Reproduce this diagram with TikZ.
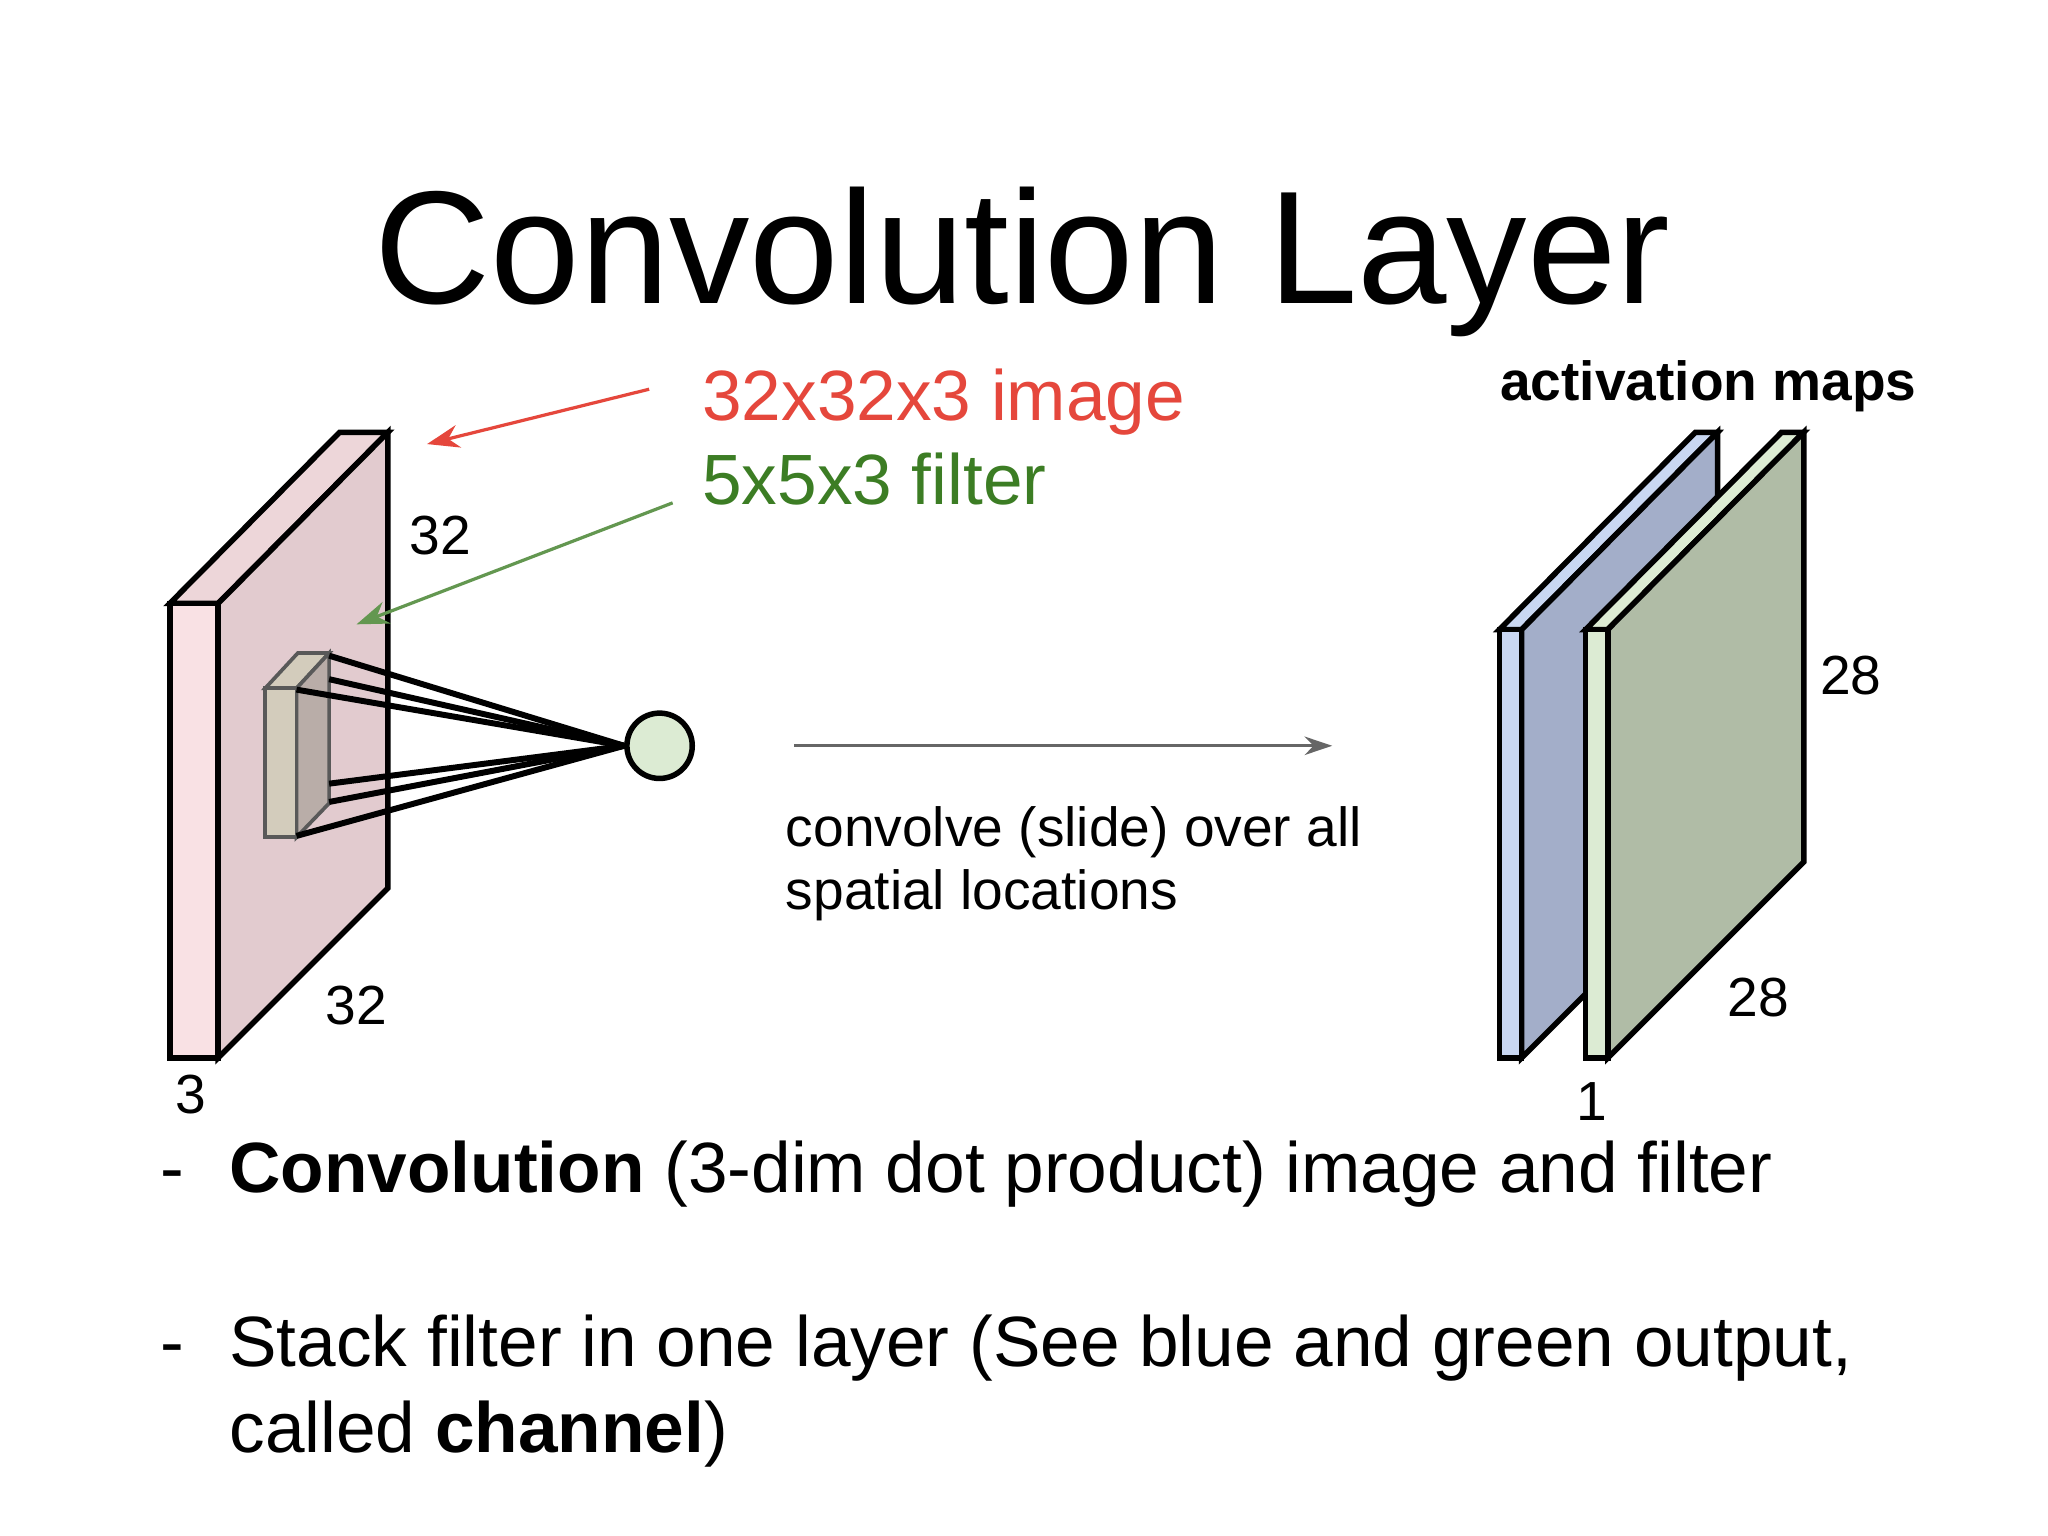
\documentclass[tikz,border=0pt]{standalone}
\usepackage{fontspec}
\setmainfont{Liberation Sans}
\usetikzlibrary{arrows.meta}
\definecolor{pinkf}{HTML}{F9E1E4}
\definecolor{pinks}{HTML}{E2CBCF}
\definecolor{pinkt}{HTML}{EDD6D9}
\definecolor{filf}{HTML}{D3CCBC}
\definecolor{fils}{HTML}{B9ADA8}
\definecolor{bluef}{HTML}{C9D7F2}
\definecolor{blues}{HTML}{A3AEC9}
\definecolor{greenf}{HTML}{DCEBD3}
\definecolor{greens}{HTML}{B0BCA6}
\definecolor{redt}{HTML}{E5473C}
\definecolor{greent}{HTML}{3C7D24}
\tikzset{box/.style={draw=black,line width=1.2pt,line join=miter},
 lbl/.style={font=\fontsize{12}{14}\selectfont,inner sep=0pt},
 bul/.style={font=\fontsize{15.5}{18}\selectfont,inner sep=0pt,anchor=base west}}
\begin{document}
\begin{tikzpicture}[x=0.01cm,y=-0.01cm]
\useasboundingbox (0,0) rectangle (1568,1176);
\fill[white] (0,0) rectangle (1568,1176);
\node[inner sep=0pt,anchor=base,font=\fontsize{35}{40}\selectfont] (title) at (783,232) {Convolution Layer};
% image slab
\filldraw[box,fill=pinkt] (130,462)--(167,462)--(297,331)--(260,331)--cycle;
\filldraw[box,fill=pinks] (167,462)--(297,331)--(297,680)--(167,810)--cycle;
\filldraw[box,fill=pinkf] (130,462) rectangle (167,810);
% filter
\filldraw[draw=gray!70!black,line width=0.8pt,fill=filf] (203,527)--(227,527)--(252,500)--(228,500)--cycle;
\filldraw[draw=gray!70!black,line width=0.8pt,fill=fils] (227,527)--(252,500)--(252,615)--(227,641)--cycle;
\filldraw[draw=gray!70!black,line width=0.8pt,fill=filf] (203,527) rectangle (227,641);
\coordinate (f1) at (252,502);
\coordinate (f2) at (227,528);
\coordinate (f3) at (227,640);
\coordinate (f4) at (252,614);
\coordinate (f5) at (252,520);
\coordinate (f6) at (252,600);
\node[circle,draw=black,line width=1.2pt,fill=greenf,inner sep=0pt,minimum size=0.5cm] (neuron) at (505,571) {};
\foreach \c in {f1,f2,f3,f4,f5,f6}{\draw[line width=1.3pt] (\c) -- (neuron.west);}
\node[lbl] (l32a) at (337,410) {32};
\node[lbl] (l32b) at (273,770) {32};
\node[lbl] (l3) at (146,838) {3};
% labels with arrows
\node[inner sep=0pt,anchor=base west,text=redt,font=\fontsize{15.5}{18}\selectfont] (imgl) at (537,322) {32x32x3 image};
\node[inner sep=0pt,anchor=base west,text=greent,font=\fontsize{15.5}{18}\selectfont] (fill) at (537,386) {5x5x3 filter};
\coordinate (ra) at (497,298); \coordinate (rb) at (327,340);
\draw[redt,line width=0.7pt,-{Stealth[length=7pt,width=5pt]}] (ra) -- (rb);
\coordinate (ga) at (515,385); \coordinate (gb) at (273,478);
\draw[greent!80,line width=0.7pt,-{Stealth[length=7pt,width=5pt]}] (ga) -- (gb);
% middle arrow
\coordinate (ma) at (608,571); \coordinate (mb) at (1020,571);
\draw[gray!80!black,line width=0.7pt,-{Stealth[length=6pt,width=4pt]}] (ma) -- (mb);
\node[lbl,anchor=base west] (conv1) at (601,648) {convolve (slide) over all};
\node[lbl,anchor=base west] (conv2) at (601,696) {spatial locations};
% activation maps
\node[lbl,font=\bfseries\fontsize{12}{14}\selectfont] (act) at (1308,296) {activation maps};
\filldraw[box,fill=bluef] (1148,482)--(1165,482)--(1315,331)--(1298,331)--cycle;
\filldraw[box,fill=blues] (1165,482)--(1315,331)--(1315,660)--(1165,810)--cycle;
\filldraw[box,fill=bluef] (1148,482) rectangle (1165,810);
\filldraw[box,fill=greenf] (1214,482)--(1231,482)--(1381,331)--(1364,331)--cycle;
\filldraw[box,fill=greens] (1231,482)--(1381,331)--(1381,660)--(1231,810)--cycle;
\filldraw[box,fill=greenf] (1214,482) rectangle (1231,810);
\node[lbl] (l28a) at (1417,517) {28};
\node[lbl] (l28b) at (1346,764) {28};
\node[lbl] (l1) at (1219,843) {1};
% bullets
\node[bul] (d1) at (122,913) {-};
\node[bul] (b1) at (175,913) {\textbf{Convolution} (3-dim dot product) image and filter};
\node[bul] (d2) at (122,1046) {-};
\node[bul] (b2) at (175,1046) {Stack filter in one layer (See blue and green output,};
\node[bul] (b3) at (175,1112) {called \textbf{channel})};
\end{tikzpicture}
\end{document}
